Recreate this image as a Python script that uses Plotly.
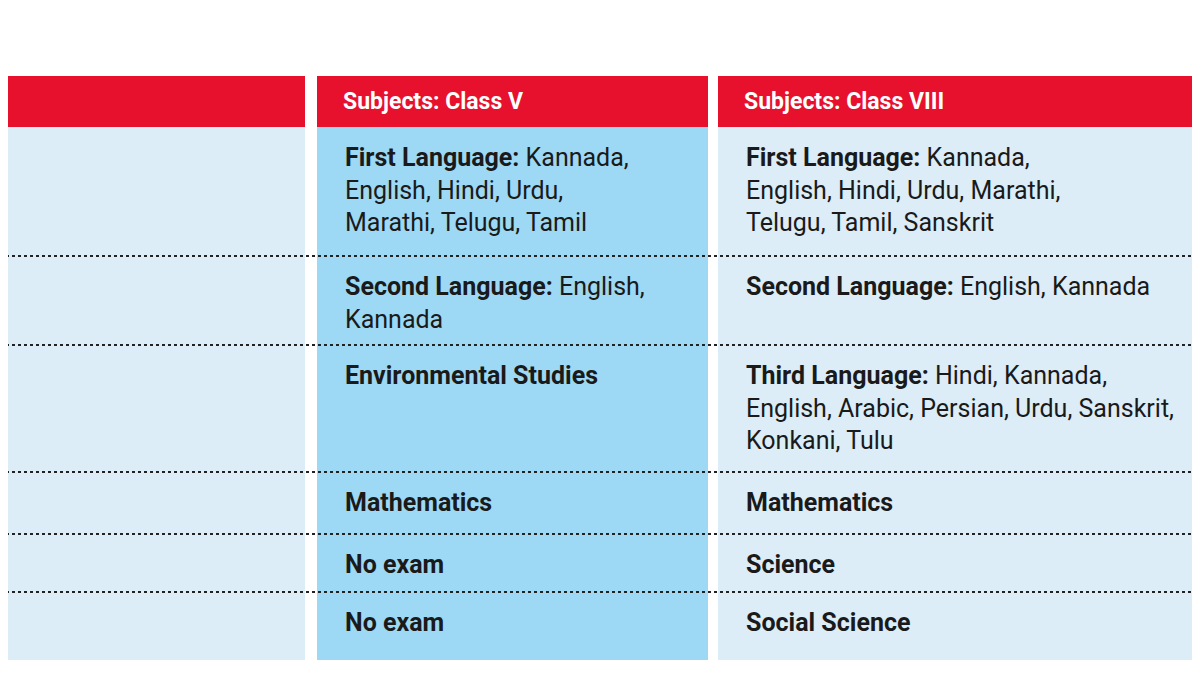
import plotly.graph_objects as go

title = "Examination timetable"
headers = ["Date and day", "Subjects: Class V", "Subjects: Class VIII"]
dates = ["27/03/2023, Monday", "28/03/2023, Tuesday", "29/03/2023, Wednesday",
         "30/03/2023, Thursday", "31/03/2023, Friday", "01/04/2023, Saturday"]
class_v = [
    "<b>First Language:</b> Kannada,<br>English, Hindi, Urdu,<br>Marathi, Telugu, Tamil",
    "<b>Second Language:</b> English,<br>Kannada",
    "<b>Environmental Studies</b>",
    "<b>Mathematics</b>",
    "<b>No exam</b>",
    "<b>No exam</b>",
]
class_viii = [
    "<b>First Language:</b> Kannada,<br>English, Hindi, Urdu, Marathi,<br>Telugu, Tamil, Sanskrit",
    "<b>Second Language:</b> English, Kannada",
    "<b>Third Language:</b> Hindi, Kannada,<br>English, Arabic, Persian, Urdu, Sanskrit,<br>Konkani, Tulu",
    "<b>Mathematics</b>",
    "<b>Science</b>",
    "<b>Social Science</b>",
]

# layout in pixels (page body margin of 8px is compensated in axis ranges)
OFF = 8
cols = [(0, 305), (317, 708), (718, 1210)]
row_edges = [127, 256, 345, 472, 534, 592, 660]
head_top = 76
FONT = "Roboto"

fig = go.Figure()
shapes = [dict(type="rect", x0=0, x1=1210, y0=0, y1=6, fillcolor="#8a8a8a", line_width=0)]
ann = [dict(x=1, y=66, text=title, showarrow=False, xanchor="left", yanchor="bottom",
            xshift=-8, font=dict(family=FONT, size=40, color="#3a3a3a"))]

for i, (x0, x1) in enumerate(cols):
    shapes.append(dict(type="rect", x0=x0, x1=x1, y0=head_top, y1=row_edges[0],
                       fillcolor="#e8112d", line_width=0))
    shapes.append(dict(type="rect", x0=x0, x1=x1, y0=row_edges[0], y1=row_edges[-1],
                       fillcolor="#9dd9f4" if i == 1 else "#dcedf8", line_width=0))
    ann.append(dict(x=x0 + (6 if i == 0 else 24), y=(head_top + row_edges[0]) / 2,
                    text="<b>" + headers[i] + "</b>", showarrow=False, xanchor="left",
                    yanchor="middle", font=dict(family=FONT, size=23, color="white")))

for r in range(1, len(row_edges) - 1):
    shapes.append(dict(type="line", x0=0, x1=1210, y0=row_edges[r], y1=row_edges[r],
                       line=dict(color="#222222", width=2, dash="dot")))

for r in range(len(dates)):
    ytop = row_edges[r] + 14
    for i, txt in enumerate([dates[r], class_v[r], class_viii[r]]):
        ann.append(dict(x=cols[i][0] + (1 if i == 0 else 26), y=ytop, text=txt,
                        showarrow=False, xanchor="left", yanchor="top", align="left",
                        xshift=-6 if i == 0 else 0,
                        font=dict(family=FONT, size=25, color="#1a1a1a")))

fig.update_layout(
    width=1200, height=675, margin=dict(l=0, r=0, t=0, b=0),
    paper_bgcolor="white", plot_bgcolor="white",
    xaxis=dict(range=[OFF, 1200 + OFF], visible=False, fixedrange=True),
    yaxis=dict(range=[675 + OFF, OFF], visible=False, fixedrange=True),
    shapes=shapes, annotations=ann, showlegend=False,
)
fig.write_html("out.html")
